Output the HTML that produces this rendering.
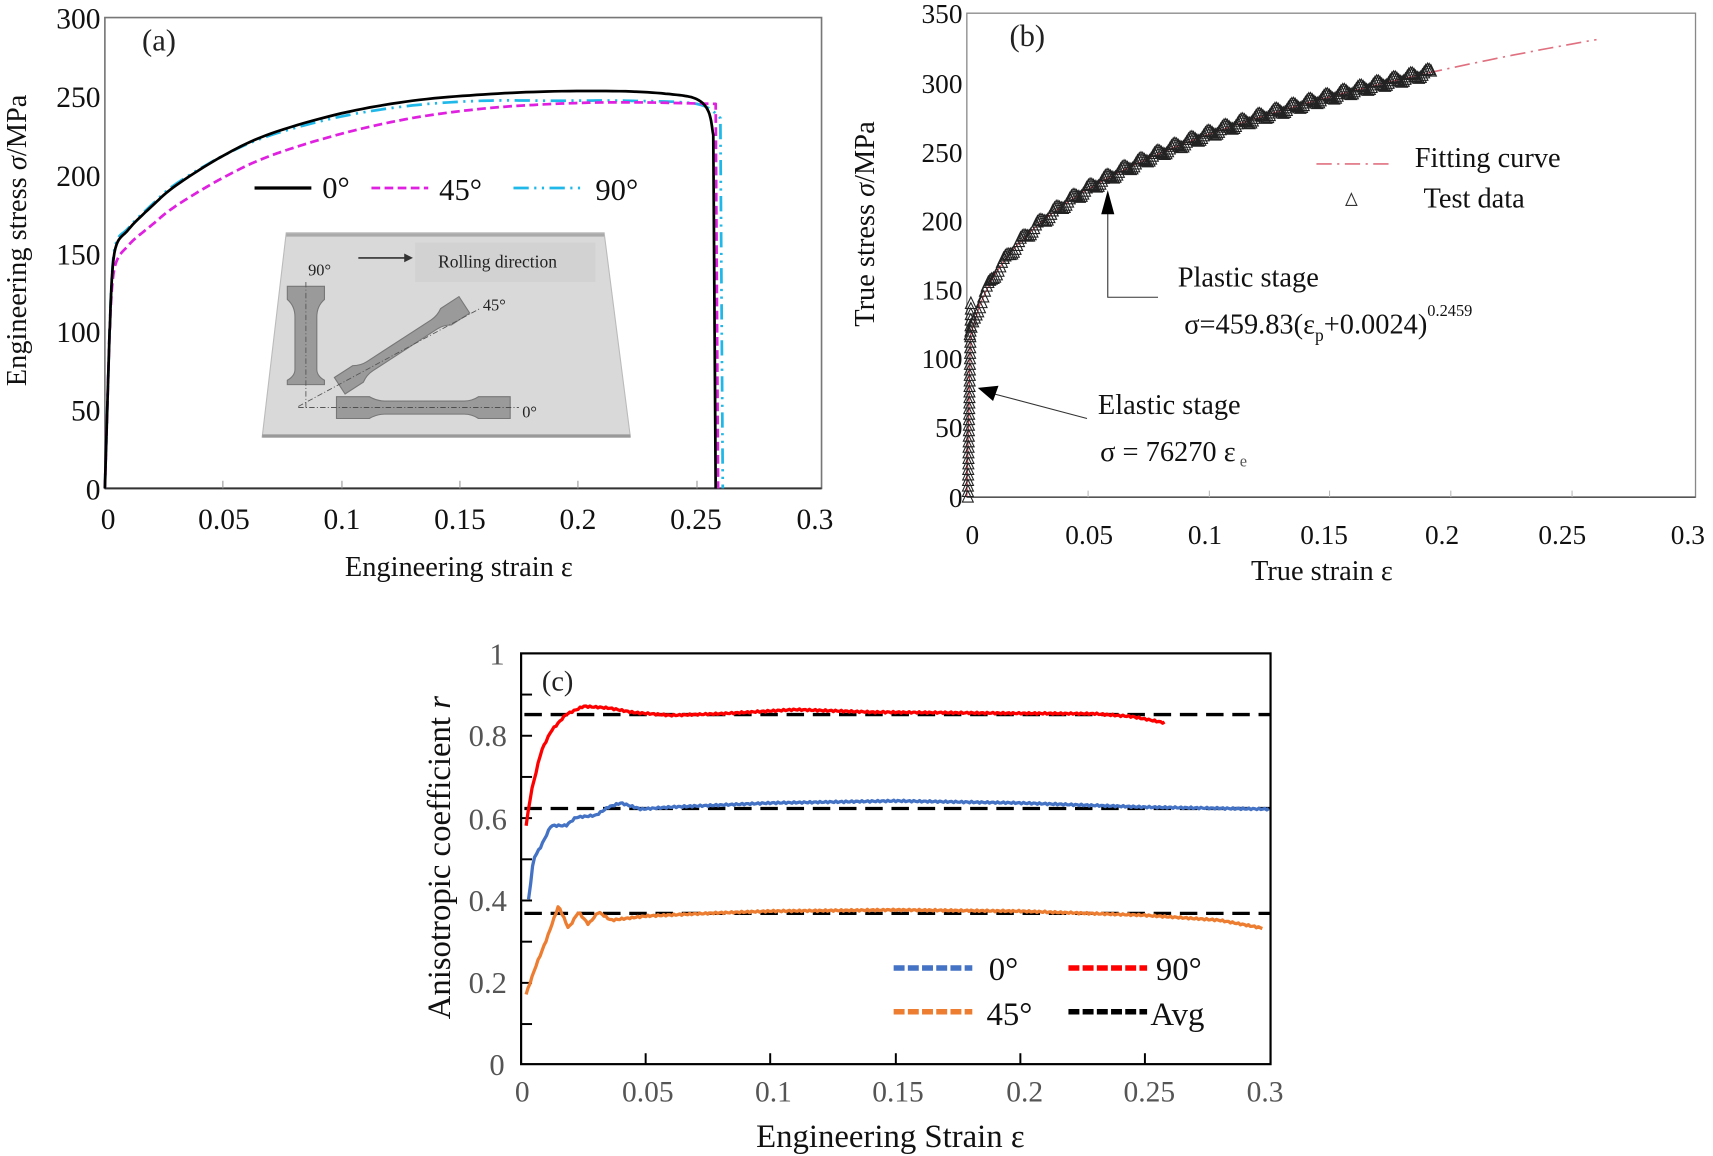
<!DOCTYPE html>
<html><head><meta charset="utf-8">
<style>
html,body{margin:0;padding:0;background:#fff;}
svg{display:block;}
text{font-family:"Liberation Serif","DejaVu Serif",serif;}
</style></head>
<body>
<svg id="s" width="1713" height="1156" viewBox="0 0 1568 1058" xmlns="http://www.w3.org/2000/svg">
<rect width="1568" height="1058" fill="#fff"/>
<!-- ===== Panel A ===== -->
<g id="ga">
<rect x="96" y="16" width="656" height="431" fill="none" stroke="#777" stroke-width="1.5"/>
<line x1="96" y1="447" x2="752" y2="447" stroke="#333" stroke-width="1.8"/>
<g stroke="#999" stroke-width="1">
<line x1="204" y1="447" x2="204" y2="440"/><line x1="313" y1="447" x2="313" y2="440"/><line x1="421" y1="447" x2="421" y2="440"/><line x1="529" y1="447" x2="529" y2="440"/><line x1="638" y1="447" x2="638" y2="440"/>
</g>
<g font-size="27" fill="#111" text-anchor="end">
<text x="92" y="26">300</text><text x="92" y="98">250</text><text x="92" y="170">200</text><text x="92" y="242">150</text><text x="92" y="313">100</text><text x="92" y="385">50</text><text x="92" y="457">0</text>
</g>
<g font-size="27" fill="#111" text-anchor="middle">
<text x="99" y="484">0</text><text x="205" y="484">0.05</text><text x="313" y="484">0.1</text><text x="421" y="484">0.15</text><text x="529" y="484">0.2</text><text x="637" y="484">0.25</text><text x="746" y="484">0.3</text>
</g>
<text x="420" y="527" font-size="26" text-anchor="middle" fill="#111">Engineering strain ε</text>
<text transform="translate(24,220) rotate(-90)" font-size="26" text-anchor="middle" fill="#111">Engineering stress <tspan font-style="italic">σ</tspan>/MPa</text>
<text x="130" y="46" font-size="28" fill="#222">(a)</text>
<line x1="233" y1="172" x2="285" y2="172" stroke="#000" stroke-width="3"/>
<text x="295" y="181" font-size="28" fill="#111">0°</text>
<line x1="340" y1="172" x2="392" y2="172" stroke="#e020e0" stroke-width="2.5" stroke-dasharray="8,4"/>
<text x="402" y="183" font-size="28" fill="#111">45°</text>
<line x1="470" y1="172" x2="535" y2="172" stroke="#20b8e8" stroke-width="2.5" stroke-dasharray="14,5,2,5,2,5"/>
<text x="545" y="183" font-size="28" fill="#111">90°</text>
<polygon points="262,213 553,213 577,400 240,400" fill="#d9d9d9" stroke="#bbb"/>
<line x1="262" y1="215" x2="553" y2="215" stroke="#aaa" stroke-width="3"/>
<line x1="240" y1="399" x2="577" y2="399" stroke="#999" stroke-width="3"/>
<rect x="380" y="222" width="165" height="36" fill="#d2d2d2"/>
<line x1="328" y1="236" x2="372" y2="236" stroke="#333" stroke-width="1.5"/>
<polygon points="378,236 370,232 370,240" fill="#333"/>
<text x="401" y="245" font-size="16" fill="#222">Rolling direction</text>
<path d="M263,262 H297 V274 Q290,280 290,290 V338 Q290,344 297,348 V352 H263 V348 Q270,344 270,338 V290 Q270,280 263,274 Z" fill="#9a9a9a" stroke="#777"/>
<line x1="280" y1="258" x2="280" y2="375" stroke="#555" stroke-dasharray="5,2,1,2" stroke-width="0.8"/>
<text x="282" y="252" font-size="15" fill="#222">90°</text>
<g transform="translate(368,316) rotate(-33)">
<path d="M-68,-9 H-48 Q-42,-5 -35,-5 H35 Q42,-5 48,-9 H68 V9 H48 Q42,5 35,5 H-35 Q-42,5 -48,9 H-68 Z" fill="#9a9a9a" stroke="#777"/>
</g>
<line x1="273" y1="372" x2="440" y2="282" stroke="#555" stroke-dasharray="5,2,1,2" stroke-width="0.8"/>
<text x="442" y="284" font-size="15" fill="#222">45°</text>
<path d="M308,363 H338 Q345,367 352,367 H425 Q432,367 438,363 H467 V383 H438 Q432,379 425,379 H352 Q345,379 338,383 H308 Z" fill="#9a9a9a" stroke="#777"/>
<line x1="273" y1="373" x2="475" y2="373" stroke="#444" stroke-dasharray="5,2,1,2" stroke-width="0.8"/>
<text x="478" y="382" font-size="15" fill="#222">0°</text>
</g>
<!-- ===== Panel B ===== -->
<g id="gb">
<rect x="885" y="12" width="667" height="443" fill="none" stroke="#888" stroke-width="1.2"/>
<line x1="885" y1="455" x2="1552" y2="455" stroke="#555" stroke-width="1.5"/>
<g stroke="#bbb" stroke-width="1">
<line x1="996" y1="455" x2="996" y2="449"/><line x1="1107" y1="455" x2="1107" y2="449"/><line x1="1217" y1="455" x2="1217" y2="449"/><line x1="1328" y1="455" x2="1328" y2="449"/><line x1="1439" y1="455" x2="1439" y2="449"/>
</g>
<g font-size="25" fill="#111" text-anchor="end">
<text x="881" y="21">350</text><text x="881" y="85">300</text><text x="881" y="148">250</text><text x="881" y="211">200</text><text x="881" y="274">150</text><text x="881" y="337">100</text><text x="881" y="400">50</text><text x="881" y="464">0</text>
</g>
<g font-size="25" fill="#111" text-anchor="middle">
<text x="890" y="498">0</text><text x="997" y="498">0.05</text><text x="1103" y="498">0.1</text><text x="1212" y="498">0.15</text><text x="1320" y="498">0.2</text><text x="1430" y="498">0.25</text><text x="1545" y="498">0.3</text>
</g>
<text x="1210" y="531" font-size="26" text-anchor="middle" fill="#111">True strain ε</text>
<text transform="translate(800,205) rotate(-90)" font-size="26" text-anchor="middle" fill="#111">True stress <tspan font-style="italic">σ</tspan>/MPa</text>
<text x="924" y="42" font-size="28" fill="#222">(b)</text>
<line x1="1205" y1="150" x2="1275" y2="150" stroke="#e07080" stroke-width="1.5" stroke-dasharray="14,5,2,5"/>
<text x="1295" y="153" font-size="26" fill="#111">Fitting curve</text>
<polygon points="1237,177 1232,188 1242,188" fill="none" stroke="#333" stroke-width="1"/>
<text x="1303" y="190" font-size="26" fill="#111">Test data</text>
<polyline points="1060,272 1014,272 1014,195" fill="none" stroke="#333" stroke-width="1"/>
<polygon points="1014,174 1008,196 1020,196" fill="#000"/>
<text x="1078" y="262" font-size="26" fill="#111">Plastic stage</text>
<text x="1084" y="305" font-size="26" fill="#111">σ=459.83(ε<tspan font-size="16" dy="7">p</tspan><tspan dy="-7">+0.0024)</tspan><tspan font-size="15" dy="-16">0.2459</tspan></text>
<line x1="995" y1="383" x2="908" y2="360" stroke="#333" stroke-width="1"/>
<polygon points="895,355 914,353 909,367" fill="#000"/>
<text x="1005" y="379" font-size="26" fill="#111">Elastic stage</text>
<text x="1007" y="422" font-size="26" fill="#111">σ = 76270 ε<tspan font-size="15" dy="5" fill="#555"> e</tspan></text>
</g>
<!-- ===== Panel C ===== -->
<g id="gc">
<rect x="477" y="598" width="686" height="376" fill="none" stroke="#000" stroke-width="2"/>
<g stroke="#000" stroke-width="1.8">
<line x1="477" y1="635.7" x2="487" y2="635.7"/><line x1="477" y1="673.4" x2="487" y2="673.4"/><line x1="477" y1="711.1" x2="487" y2="711.1"/><line x1="477" y1="748.8" x2="487" y2="748.8"/><line x1="477" y1="786.5" x2="487" y2="786.5"/><line x1="477" y1="824.2" x2="487" y2="824.2"/><line x1="477" y1="861.9" x2="487" y2="861.9"/><line x1="477" y1="899.6" x2="487" y2="899.6"/><line x1="477" y1="937.3" x2="487" y2="937.3"/>
<line x1="591" y1="974" x2="591" y2="964"/><line x1="705" y1="974" x2="705" y2="964"/><line x1="820" y1="974" x2="820" y2="964"/><line x1="934" y1="974" x2="934" y2="964"/><line x1="1048" y1="974" x2="1048" y2="964"/>
</g>
<g font-size="28" fill="#555" text-anchor="end">
<text x="462" y="608">1</text><text x="464" y="683">0.8</text><text x="464" y="759">0.6</text><text x="464" y="834">0.4</text><text x="464" y="909">0.2</text><text x="462" y="984">0</text>
</g>
<g font-size="27" fill="#555" text-anchor="middle">
<text x="478" y="1008">0</text><text x="593" y="1008">0.05</text><text x="708" y="1008">0.1</text><text x="822" y="1008">0.15</text><text x="938" y="1008">0.2</text><text x="1052" y="1008">0.25</text><text x="1158" y="1008">0.3</text>
</g>
<text x="815" y="1050" font-size="30" text-anchor="middle" fill="#111">Engineering Strain ε</text>
<text transform="translate(412,785) rotate(-90)" font-size="30" text-anchor="middle" fill="#111">Anisotropic coefficient <tspan font-style="italic">r</tspan></text>
<text x="496" y="632" font-size="26" fill="#222">(c)</text>
<g stroke-width="3" stroke-dasharray="16,8" stroke="#000">
<line x1="480" y1="654" x2="1163" y2="654"/><line x1="480" y1="740" x2="1163" y2="740"/><line x1="480" y1="836" x2="1163" y2="836"/>
</g>
<line x1="818" y1="886" x2="890" y2="886" stroke="#4472c4" stroke-width="5" stroke-dasharray="10,3"/>
<text x="905" y="897" font-size="30" fill="#111">0°</text>
<line x1="978" y1="886" x2="1050" y2="886" stroke="#ff0000" stroke-width="5" stroke-dasharray="10,3"/>
<text x="1058" y="897" font-size="30" fill="#111">90°</text>
<line x1="818" y1="926" x2="890" y2="926" stroke="#ed7d31" stroke-width="5" stroke-dasharray="10,3"/>
<text x="903" y="938" font-size="30" fill="#111">45°</text>
<line x1="978" y1="926" x2="1050" y2="926" stroke="#000" stroke-width="5" stroke-dasharray="10,3"/>
<text x="1053" y="938" font-size="30" fill="#111">Avg</text>
</g>
<g id="curves"></g>
</svg>
<script>
(function(){
var NS="http://www.w3.org/2000/svg",g=document.getElementById("curves");
function pl(pts,attrs){var e=document.createElementNS(NS,"polyline");e.setAttribute("points",pts.map(function(p){return p[0].toFixed(1)+","+p[1].toFixed(1)}).join(" "));e.setAttribute("fill","none");e.setAttribute("stroke-linejoin","round");for(var k in attrs)e.setAttribute(k,attrs[k]);g.appendChild(e);}
function interp(d,x){for(var i=1;i<d.length;i++){if(x<=d[i][0]){var t=(x-d[i-1][0])/(d[i][0]-d[i-1][0]);return d[i-1][1]+t*(d[i][1]-d[i-1][1]);}}return d[d.length-1][1];}
function cr(P){var o=[P[0]];for(var i=0;i<P.length-1;i++){var p0=P[Math.max(i-1,0)],p1=P[i],p2=P[i+1],p3=P[Math.min(i+2,P.length-1)];for(var t=0.1;t<=1.001;t+=0.1){var t2=t*t,t3=t2*t;o.push([0,1].map(function(k){return 0.5*((2*p1[k])+(-p0[k]+p2[k])*t+(2*p0[k]-5*p1[k]+4*p2[k]-p3[k])*t2+(-p0[k]+3*p1[k]-3*p2[k]+p3[k])*t3);}));}}return o;}
function A(d){return d.map(function(p){return [96+p[0]*2167,447-p[1]*1.4367]});}
function segA(d){var n=d.length;var main=cr(A(d.slice(1,n-1)));return [A([d[0]])[0]].concat(main).concat(A([d[n-1]]));}
var a0=[[0,0],[0.002,100],[0.004,150],[0.01,165],[0.02,180],[0.03,193],[0.05,212],[0.07,226],[0.1,239],[0.13,247],[0.16,251],[0.19,253],[0.22,253],[0.24,251],[0.25,248],[0.255,240],[0.257,225],[0.258,0]];
var a45=[[0,0],[0.002,100],[0.004,140],[0.01,155],[0.02,168],[0.03,180],[0.05,198],[0.07,212],[0.1,226],[0.13,236],[0.16,242],[0.19,245],[0.22,246],[0.258,245],[0.259,0]];
var a90=[[0,0],[0.002,100],[0.004,152],[0.01,166],[0.02,181],[0.03,194],[0.05,212],[0.07,225],[0.1,237],[0.13,244],[0.16,247],[0.19,247],[0.22,247],[0.25,245],[0.26,236],[0.261,0]];
pl(segA(a90),{stroke:"#20b8e8","stroke-width":2.5,"stroke-dasharray":"14,5,2,5,2,5"});
pl(segA(a45),{stroke:"#e020e0","stroke-width":2.5,"stroke-dasharray":"8,4"});
pl(segA(a0),{stroke:"#000","stroke-width":2.5});
function B(e,s){return [885+e*2217,455-s*1.2657];}
var fit=[];for(var e=0.19;e<=0.2605;e+=0.005){fit.push(B(e,459.83*Math.pow(e+0.0024,0.2459)));}
pl(fit,{stroke:"#e07080","stroke-width":1.5,"stroke-dasharray":"14,5,2,5"});
var red=[B(0,0),B(0.0014,110)];for(var e=0.0014;e<=0.19;e+=0.004){red.push(B(e,459.83*Math.pow(e+0.0024,0.2459)));}
pl(red,{stroke:"#d04050","stroke-width":1});
var tri="";function T(p){tri+="M"+p[0].toFixed(1)+","+(p[1]-6).toFixed(1)+"l-5,10.5h10z";}
for(var s=0;s<=140;s+=4)T(B(s/76270*0.7+0.0004,s));
for(var e=0.0012;e<=0.192;e+=0.0007){var s=459.83*Math.pow(e+0.0024,0.2459)+(Math.sin(e*900)*2.5);T(B(e,s));}
var pth=document.createElementNS(NS,"path");pth.setAttribute("d",tri);pth.setAttribute("fill","none");pth.setAttribute("stroke","#222");pth.setAttribute("stroke-width","1");g.appendChild(pth);
function C(d){var o=[];for(var e=d[0][0];e<=d[d.length-1][0];e+=0.0008){var v=interp(d,e)+Math.sin(e*3000)*0.002;o.push([477+e*2283,974-v*376.5]);}return o;}
var cR=[[0.002,0.58],[0.004,0.66],[0.008,0.76],[0.012,0.81],[0.018,0.85],[0.025,0.87],[0.035,0.866],[0.045,0.855],[0.06,0.848],[0.08,0.852],[0.11,0.862],[0.14,0.856],[0.2,0.853],[0.23,0.852],[0.245,0.845],[0.258,0.83]];
var cB=[[0.003,0.40],[0.005,0.50],[0.008,0.53],[0.012,0.58],[0.018,0.58],[0.022,0.60],[0.03,0.605],[0.035,0.625],[0.04,0.635],[0.048,0.62],[0.06,0.625],[0.1,0.635],[0.15,0.64],[0.2,0.635],[0.25,0.625],[0.3,0.62]];
var cO=[[0.002,0.17],[0.006,0.24],[0.01,0.30],[0.015,0.385],[0.019,0.33],[0.023,0.37],[0.027,0.34],[0.031,0.37],[0.036,0.35],[0.05,0.36],[0.08,0.368],[0.1,0.372],[0.15,0.375],[0.2,0.372],[0.25,0.362],[0.28,0.35],[0.298,0.33]];
pl(C(cB),{stroke:"#4472c4","stroke-width":3});
pl(C(cO),{stroke:"#ed7d31","stroke-width":3});
pl(C(cR),{stroke:"#ff0000","stroke-width":3});
})();
</script>
</body></html>
